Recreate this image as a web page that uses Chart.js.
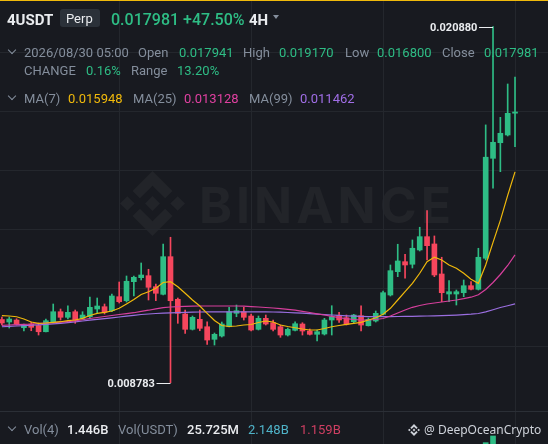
<!DOCTYPE html>
<html>
<head>
<meta charset="utf-8">
<script src="https://cdn.jsdelivr.net/npm/chart.js@4.4.1/dist/chart.umd.min.js"></script>
<style>
  html, body { margin: 0; padding: 0; background: #181a20; }
  #wrap { position: relative; width: 548px; height: 444px; overflow: hidden; background: #181a20; font-family: Roboto, sans-serif; }
  #wm { position: absolute; left: 0; top: 0; }
  #wmLogo { position: absolute; left: 120px; top: 171px; width: 65px; height: 65px; }
  #wmText { position: absolute; left: 199px; top: 180px; font: 700 50px Inter, sans-serif; line-height: 50px; color: #222429; letter-spacing: 4px; }
  canvas { position: absolute; left: 0; top: 0; }
  #topline { position: absolute; left: 0; top: 0; width: 548px; height: 1px; background: #f0b90b; }
  .t { position: absolute; white-space: nowrap; font-size: 13px; line-height: 16px; }
  .g { color: #848e9c; }
  .up { color: #2ebd85; }
  .w { color: #eaecef; }
  .chev { position: absolute; width: 5px; height: 5px; border-right: 1.3px solid #848e9c; border-bottom: 1.3px solid #848e9c; transform: rotate(45deg); }
  .mk { position: absolute; white-space: nowrap; font: 700 11px Roboto, sans-serif; line-height: 12px; color: #eaecef; }
</style>
</head>
<body>
<div id="wrap">
  <div id="wm">
    <svg id="wmLogo" viewBox="0 0 126.61 126.61">
      <g fill="#222429">
        <polygon points="38.73,53.2 63.31,28.62 87.92,53.22 102.23,38.91 63.31,0 24.42,38.9"/>
        <polygon points="0,63.31 14.3,49 28.61,63.31 14.3,77.61"/>
        <polygon points="38.73,73.41 63.31,98 87.92,73.4 102.23,87.69 63.31,126.61 24.42,87.71"/>
        <polygon points="98,63.31 112.3,49 126.61,63.3 112.3,77.62"/>
        <polygon points="77.83,63.3 63.31,48.78 48.79,63.3 63.31,77.82"/>
      </g>
    </svg>
    <div id="wmText">BINANCE</div>
  </div>
  <canvas id="chart" width="548" height="444"></canvas>
  <div id="topline"></div>

  <!-- header row 1 -->
  <span class="t w" style="left:7px;top:11px;font-size:15px;font-weight:700;line-height:18px;">4USDT</span>
  <span style="position:absolute;left:60px;top:9px;width:40px;height:18px;background:#2b3139;border-radius:3px;"></span>
  <span class="t w" style="left:66px;top:11px;">Perp</span>
  <span class="t up" style="left:111px;top:11px;font-size:16px;font-weight:500;line-height:18px;">0.017981 +47.50%</span>
  <span class="t w" style="left:249px;top:11px;font-size:15px;font-weight:700;line-height:18px;">4H</span>
  <span style="position:absolute;left:273px;top:15px;width:0;height:0;border-left:3px solid transparent;border-right:3px solid transparent;border-top:4px solid #848e9c;"></span>

  <!-- header row 2 -->
  <span class="chev" style="left:9px;top:47px;"></span>
  <span class="t g" style="left:24px;top:45px;">2026/08/30 05:00</span>
  <span class="t g" style="left:138px;top:45px;">Open</span>
  <span class="t up" style="left:179px;top:45px;">0.017941</span>
  <span class="t g" style="left:243px;top:45px;">High</span>
  <span class="t up" style="left:279px;top:45px;">0.019170</span>
  <span class="t g" style="left:345px;top:45px;">Low</span>
  <span class="t up" style="left:377px;top:45px;">0.016800</span>
  <span class="t g" style="left:442px;top:45px;">Close</span>
  <span class="t up" style="left:484px;top:45px;">0.017981</span>

  <!-- header row 3 -->
  <span class="t g" style="left:24px;top:63px;">CHANGE</span>
  <span class="t up" style="left:86px;top:63px;">0.16%</span>
  <span class="t g" style="left:131px;top:63px;">Range</span>
  <span class="t up" style="left:177px;top:63px;">13.20%</span>

  <!-- MA row -->
  <span class="chev" style="left:9px;top:93px;"></span>
  <span class="t g" style="left:24px;top:91px;">MA(7)</span>
  <span class="t" style="left:68px;top:91px;color:#f0b90b;">0.015948</span>
  <span class="t g" style="left:133px;top:91px;">MA(25)</span>
  <span class="t" style="left:184px;top:91px;color:#e040a0;">0.013128</span>
  <span class="t g" style="left:249px;top:91px;">MA(99)</span>
  <span class="t" style="left:300px;top:91px;color:#a06ee6;">0.011462</span>

  <!-- volume row -->
  <span class="chev" style="left:9px;top:424px;"></span>
  <span class="t g" style="left:24px;top:422px;">Vol(4)</span>
  <span class="t w" style="left:67px;top:422px;font-weight:500;">1.446B</span>
  <span class="t g" style="left:118px;top:422px;">Vol(USDT)</span>
  <span class="t w" style="left:187px;top:422px;font-weight:500;">25.725M</span>
  <span class="t" style="left:248px;top:422px;color:#4fb3c8;">2.148B</span>
  <span class="t" style="left:300px;top:422px;color:#cf3f62;">1.159B</span>

  <svg style="position:absolute;left:408px;top:424px;width:12px;height:12px;" viewBox="0 0 126.61 126.61">
    <g fill="#cfd3da">
      <polygon points="38.73,53.2 63.31,28.62 87.92,53.22 102.23,38.91 63.31,0 24.42,38.9"/>
      <polygon points="0,63.31 14.3,49 28.61,63.31 14.3,77.61"/>
      <polygon points="38.73,73.41 63.31,98 87.92,73.4 102.23,87.69 63.31,126.61 24.42,87.71"/>
      <polygon points="98,63.31 112.3,49 126.61,63.3 112.3,77.62"/>
      <polygon points="77.83,63.3 63.31,48.78 48.79,63.3 63.31,77.82"/>
    </g>
  </svg>
  <span class="t" style="left:424px;top:422px;color:#cfd3da;font-family:'Noto Sans',sans-serif;font-size:12px;">@ DeepOceanCrypto</span>

  <span class="mk" id="hiLbl"></span>
  <span class="mk" id="loLbl"></span>
</div>

<script>
// 4H candles, oldest -> newest (last one = 2026/08/30 05:00)
const opens = [
  0.010930, 0.010845, 0.010913, 0.010651, 0.010777, 0.010726, 0.010515, 0.010845, 0.011195, 0.011005,
  0.011195, 0.010971, 0.011025, 0.011287, 0.011365, 0.011229, 0.011705, 0.011569, 0.012215, 0.012351,
  0.012419, 0.012045, 0.011787, 0.013065, 0.011617, 0.011117, 0.010597, 0.010937, 0.010685, 0.010257,
  0.010369, 0.010685, 0.011141, 0.011195, 0.011049, 0.010597, 0.010971, 0.010821, 0.010685, 0.010403,
  0.010563, 0.010777, 0.010539, 0.010427, 0.010437, 0.010913, 0.011059, 0.010991, 0.010855, 0.011059,
  0.010719, 0.010879, 0.011107, 0.011763, 0.012555, 0.012895, 0.012807, 0.013293, 0.013745, 0.013497,
  0.012477, 0.011797, 0.011797, 0.011841, 0.012079, 0.011957, 0.013011, 0.016408, 0.016938, 0.017200,
  0.017941
];
const highs = [
  0.011015, 0.011015, 0.010957, 0.010777, 0.010845, 0.010811, 0.010947, 0.011457, 0.011287, 0.011399,
  0.011253, 0.011195, 0.011695, 0.011661, 0.011457, 0.011797, 0.012205, 0.012409, 0.012409, 0.012851,
  0.012637, 0.012137, 0.013497, 0.013725, 0.011661, 0.011253, 0.011049, 0.011253, 0.010855, 0.010471,
  0.010845, 0.011345, 0.011423, 0.011345, 0.011117, 0.011049, 0.011083, 0.010913, 0.010743, 0.010641,
  0.010855, 0.010821, 0.010607, 0.010573, 0.010971, 0.011399, 0.011175, 0.011083, 0.011107, 0.011399,
  0.010981, 0.011219, 0.011899, 0.012783, 0.013487, 0.013147, 0.013633, 0.014065, 0.014629, 0.013769,
  0.013045, 0.012249, 0.011933, 0.012273, 0.012215, 0.013351, 0.017543, 0.020880, 0.017801, 0.018933,
  0.019170
];
const lows = [
  0.010743, 0.010641, 0.010743, 0.010539, 0.010549, 0.010403, 0.010505, 0.010811, 0.010913, 0.010947,
  0.010801, 0.010947, 0.010981, 0.011151, 0.011117, 0.011195, 0.011491, 0.011525, 0.011729, 0.012273,
  0.011593, 0.011569, 0.011763, 0.008783, 0.010801, 0.010461, 0.010573, 0.010549, 0.010087, 0.010063,
  0.010335, 0.010675, 0.011025, 0.010913, 0.010539, 0.010573, 0.010743, 0.010539, 0.010325, 0.010369,
  0.010539, 0.010403, 0.010403, 0.010199, 0.010403, 0.010403, 0.010835, 0.010743, 0.010811, 0.010539,
  0.010709, 0.010845, 0.011083, 0.011729, 0.012385, 0.012331, 0.012681, 0.013259, 0.012953, 0.012385,
  0.011535, 0.011535, 0.011423, 0.011705, 0.011933, 0.011933, 0.012953, 0.015389, 0.015953, 0.017166,
  0.016800
];
const closes = [
  0.010811, 0.010947, 0.010777, 0.010743, 0.010665, 0.010515, 0.010889, 0.011195, 0.011005, 0.011175,
  0.010913, 0.011083, 0.011345, 0.011389, 0.011175, 0.011729, 0.011535, 0.012229, 0.012365, 0.012443,
  0.012025, 0.011821, 0.013065, 0.011569, 0.011141, 0.010597, 0.011005, 0.010631, 0.010233, 0.010427,
  0.010777, 0.011195, 0.011229, 0.011005, 0.010573, 0.010971, 0.010777, 0.010597, 0.010403, 0.010597,
  0.010787, 0.010539, 0.010427, 0.010515, 0.010913, 0.011025, 0.010913, 0.010767, 0.011083, 0.010743,
  0.010937, 0.011141, 0.011841, 0.012589, 0.012919, 0.012783, 0.013351, 0.013745, 0.013439, 0.012443,
  0.011841, 0.011875, 0.011875, 0.012079, 0.011957, 0.013045, 0.016445, 0.016952, 0.017258, 0.017937,
  0.017981
];
const ma7 = [
  0.011059, 0.011049, 0.011025, 0.010947, 0.010845, 0.010801, 0.010811, 0.010835, 0.010855, 0.010889,
  0.010913, 0.010971, 0.011066, 0.011141, 0.011175, 0.011219, 0.011311, 0.011457, 0.011610, 0.011780,
  0.011875, 0.011991, 0.012188, 0.012215, 0.012045, 0.011821, 0.011593, 0.011389, 0.011141, 0.010896,
  0.010726, 0.010692, 0.010709, 0.010743, 0.010760, 0.010828, 0.010879, 0.010845, 0.010743, 0.010692,
  0.010651, 0.010607, 0.010573, 0.010573, 0.010624, 0.010685, 0.010726, 0.010767, 0.010801, 0.010835,
  0.010913, 0.010991, 0.011107, 0.011311, 0.011593, 0.011875, 0.012161, 0.012501, 0.012895, 0.013045,
  0.012953, 0.012783, 0.012671, 0.012501, 0.012297, 0.012161, 0.012783, 0.013550, 0.014300, 0.015150,
  0.015948
];
const ma25 = [
  0.010733, 0.010743, 0.010753, 0.010767, 0.010777, 0.010794, 0.010811, 0.010821, 0.010838, 0.010855,
  0.010886, 0.010923, 0.010964, 0.010998, 0.011032, 0.011066, 0.011100, 0.011131, 0.011161, 0.011205,
  0.011246, 0.011294, 0.011335, 0.011355, 0.011369, 0.011375, 0.011382, 0.011389, 0.011389, 0.011389,
  0.011389, 0.011389, 0.011389, 0.011382, 0.011369, 0.011355, 0.011338, 0.011321, 0.011301, 0.011277,
  0.011246, 0.011209, 0.011168, 0.011124, 0.011083, 0.011039, 0.010995, 0.010957, 0.010930, 0.010913,
  0.010913, 0.010930, 0.010964, 0.011049, 0.011151, 0.011253, 0.011345, 0.011406, 0.011457, 0.011491,
  0.011525, 0.011559, 0.011593, 0.011637, 0.011688, 0.011770, 0.011950, 0.012188, 0.012460, 0.012766,
  0.013128
];
const ma99 = [
  0.010685, 0.010699, 0.010709, 0.010723, 0.010736, 0.010750, 0.010767, 0.010784, 0.010801, 0.010825,
  0.010848, 0.010879, 0.010906, 0.010933, 0.010961, 0.010988, 0.011015, 0.011042, 0.011073, 0.011100,
  0.011117, 0.011134, 0.011148, 0.011158, 0.011165, 0.011171, 0.011178, 0.011185, 0.011192, 0.011192,
  0.011192, 0.011192, 0.011192, 0.011192, 0.011192, 0.011192, 0.011192, 0.011185, 0.011178, 0.011168,
  0.011158, 0.011144, 0.011131, 0.011114, 0.011097, 0.011083, 0.011069, 0.011056, 0.011046, 0.011035,
  0.011029, 0.011025, 0.011025, 0.011029, 0.011032, 0.011035, 0.011039, 0.011042, 0.011049, 0.011056,
  0.011063, 0.011069, 0.011080, 0.011093, 0.011110, 0.011134, 0.011192, 0.011263, 0.011338, 0.011399,
  0.011462
];
// volume in base token (billions); only the two biggest bars reach into the visible strip
const volumesB = [
  0.31, 0.28, 0.25, 0.22, 0.26, 0.33, 0.35, 0.42, 0.30, 0.29,
  0.31, 0.22, 0.38, 0.27, 0.24, 0.45, 0.41, 0.62, 0.36, 0.40,
  0.52, 0.44, 0.98, 1.65, 0.72, 0.58, 0.40, 0.36, 0.55, 0.30,
  0.34, 0.42, 0.26, 0.24, 0.38, 0.30, 0.22, 0.25, 0.29, 0.21,
  0.23, 0.27, 0.19, 0.24, 0.33, 0.36, 0.22, 0.21, 0.20, 0.31,
  0.19, 0.23, 0.48, 0.88, 0.92, 0.60, 0.66, 0.70, 0.95, 0.84,
  0.72, 0.18, 0.14, 0.13, 0.11, 0.29, 3.15, 3.90, 1.30, 0.944,
  1.446
];
// grid positions: price levels and candle indexes of the vertical lines
const gridPrices = [0.010, 0.012, 0.014, 0.016, 0.018, 0.020];
const gridCandles = [16, 34, 52, 70];

const UP = '#2ebd85', DOWN = '#f6465d';
const candleColors = opens.map((o, i) => closes[i] >= o ? UP : DOWN);

const paneLine = {
  id: 'paneLine',
  beforeDatasetsDraw(chart) {
    const { ctx, chartArea } = chart;
    ctx.save();
    ctx.strokeStyle = '#2b2f36';
    ctx.lineWidth = 1;
    ctx.beginPath();
    ctx.moveTo(chartArea.left, 411.5);
    ctx.lineTo(chartArea.right, 411.5);
    ctx.stroke();
    ctx.restore();
  }
};

const markers = {
  id: 'markers',
  afterDatasetsDraw(chart) {
    const { ctx, scales: { x, y } } = chart;
    const hi = highs.indexOf(Math.max(...highs));
    const lo = lows.indexOf(Math.min(...lows));
    [[hi, highs[hi], 'hiLbl'], [lo, lows[lo], 'loLbl']].forEach(([i, v, id]) => {
      const px = x.getPixelForValue(i);
      const py = Math.round(y.getPixelForValue(v)) + 0.5;
      ctx.save();
      ctx.strokeStyle = '#eaecef';
      ctx.lineWidth = 1;
      ctx.beginPath();
      ctx.moveTo(px - 14, py);
      ctx.lineTo(px, py);
      ctx.stroke();
      ctx.restore();
      const el = document.getElementById(id);
      el.textContent = v.toFixed(6);
      el.style.left = (px - 16 - el.offsetWidth) + 'px';
      el.style.top = (py - 6) + 'px';
    });
  }
};

const ctx = document.getElementById('chart').getContext('2d');
new Chart(ctx, {
  type: 'bar',
  data: {
    datasets: [
      { type: 'line', label: 'MA(7)', data: ma7.map((v, i) => ({ x: i, y: v })), borderColor: '#f0b90b', borderWidth: 1.2, pointRadius: 0, order: 0 },
      { type: 'line', label: 'MA(25)', data: ma25.map((v, i) => ({ x: i, y: v })), borderColor: '#d63f9c', borderWidth: 1.2, pointRadius: 0, order: 0 },
      { type: 'line', label: 'MA(99)', data: ma99.map((v, i) => ({ x: i, y: v })), borderColor: '#9a6ee0', borderWidth: 1.2, pointRadius: 0, order: 0 },
      { label: 'body', data: opens.map((o, i) => ({ x: i, y: [o, closes[i]] })), backgroundColor: candleColors, barThickness: 5, minBarLength: 1, grouped: false, order: 1 },
      { label: 'wick', data: lows.map((l, i) => ({ x: i, y: [l, highs[i]] })), backgroundColor: candleColors, barThickness: 1, grouped: false, order: 2 },
      { label: 'vol', yAxisID: 'yv', data: volumesB.map((v, i) => ({ x: i, y: v })), backgroundColor: candleColors, barThickness: 5, grouped: false, order: 3 }
    ]
  },
  options: {
    responsive: false,
    animation: false,
    devicePixelRatio: 1,
    events: [],
    layout: { padding: 0 },
    plugins: { legend: { display: false }, tooltip: { enabled: false } },
    scales: {
      x: {
        type: 'linear', min: -0.26, max: 74.5, offset: false,
        grid: { color: '#24272d', drawTicks: false, offset: false },
        border: { display: false },
        ticks: { display: false },
        afterBuildTicks: s => { s.ticks = gridCandles.map(v => ({ value: v })); }
      },
      y: {
        type: 'linear', min: 0.006700, max: 0.021787,
        grid: { color: '#24272d', drawTicks: false },
        border: { display: false },
        ticks: { display: false },
        afterBuildTicks: s => { s.ticks = gridPrices.map(v => ({ value: v })); }
      },
      yv: { type: 'linear', display: false, min: 3.0, max: 52.9 }
    }
  },
  plugins: [paneLine, markers]
});
</script>
</body>
</html>
